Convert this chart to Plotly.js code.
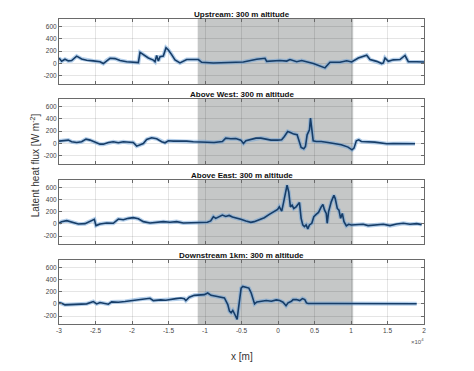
<!DOCTYPE html>
<html><head><meta charset="utf-8">
<script src="https://cdn.plot.ly/plotly-3.0.1.min.js"></script>
<style>html,body{margin:0;padding:0;background:#fff;}#chart{width:474px;height:371px;}</style>
</head><body><div id="chart"></div>
<script>
// Panel titles
const panelTitles = ["Upstream: 300 m altitude", "Above West: 300 m altitude", "Above East: 300 m altitude", "Downstream 1km: 300 m altitude"];
// x tick values (m) and labels (×10^4)
const xTickVals = [-30000,-25000,-20000,-15000,-10000,-5000,0,5000,10000,15000,20000];
const xTickText = ["-3","-2.5","-2","-1.5","-1","-0.5","0","0.5","1","1.5","2"];
const yTickVals = [-200,0,200,400,600];
// shaded region (m)
const shadeStart = -11000, shadeEnd = 10300;

// Upstream
const xUp = [-30000,-29640,-29180,-28720,-28270,-27580,-26900,-26210,-25300,-24380,-23930,-23470,-23010,-22330,-21640,-20730,-19820,-19130,-18900,-18450,-17760,-17080,-16850,-16620,-16390,-16160,-15710,-15340,-15020,-14570,-14110,-13430,-12970,-12510,-10910,-10460,-8860,-6120,-4750,-2920,-1780,-1550,270,1190,1640,2560,3240,4840,5750,6440,7120,8490,9410,10090,11000,12150,12600,13520,14200,14430,14660,15110,15800,16710,17400,17850,19000,20000];
const yUp = [90,38,70,43,48,120,75,54,43,30,0,50,85,80,50,30,15,15,180,140,90,55,30,130,40,110,120,255,220,145,60,10,35,65,65,20,10,20,25,70,85,35,50,40,65,30,48,0,-40,-70,20,20,45,25,90,135,65,35,0,10,90,35,60,65,130,30,30,25];

// Above West
const xWest = [-30000,-29410,-28720,-28270,-27580,-26900,-26300,-25750,-25070,-24380,-23930,-23240,-22560,-21870,-21190,-20500,-19820,-19360,-18900,-18450,-17990,-17310,-16620,-15940,-15480,-15020,-14340,-13430,-12510,-11600,-10140,-8760,-7620,-7160,-6470,-5780,-5090,-4730,-4400,-3720,-3030,-2340,-1650,-960,-50,500,870,1330,1700,2160,2620,2940,3170,3530,3760,3990,4310,4450,4630,4820,5230,5920,6840,7750,8670,9590,10140,10410,10730,11060,11420,13260,13970,14890,15800,16710,17630,18770];
const yWest = [38,43,54,27,16,27,70,54,27,-11,-11,16,27,11,27,16,16,-43,-27,0,65,92,76,27,11,43,38,43,38,27,27,16,32,86,76,81,54,0,43,59,86,86,76,54,54,59,113,194,178,151,140,32,-65,-86,-49,140,221,410,221,43,32,32,16,0,-22,-59,-103,-76,43,59,32,22,11,-5,0,0,0,-5];

// Above East
const xEast = [-30000,-29640,-28950,-28270,-27350,-26440,-25530,-25160,-24930,-24380,-23470,-22560,-21870,-21190,-20500,-19820,-19130,-18450,-17530,-16620,-15710,-14800,-13880,-12970,-11830,-10600,-9680,-9220,-8850,-8530,-8070,-7620,-7160,-6700,-6240,-5780,-5090,-4400,-3720,-3260,-2570,-1880,-1190,-510,-50,180,510,780,1010,1240,1470,1700,1930,2160,2480,2710,2940,3170,3390,3620,3850,4080,4310,4630,4910,5230,5550,5920,6150,6380,6610,6740,6930,7290,7660,7840,8120,8350,8580,8810,9040,9360,9680,10050,10960,11650,12340,13260,14430,15340,16260,17170,18080,19000,19680];
const yEast = [11,38,54,27,0,5,49,76,-27,0,16,11,81,70,92,103,86,38,16,22,38,27,38,16,16,27,27,49,119,92,124,146,124,140,113,103,76,49,27,38,65,103,157,200,238,281,211,362,524,635,524,281,308,254,281,308,351,92,-16,-43,-16,-81,-16,11,119,157,189,281,319,227,173,11,200,362,470,416,254,227,92,173,38,-32,-5,-16,-16,-5,-27,-16,-5,-27,0,11,-5,5,-11];

// Downstream 1km
const xDown = [-30000,-29640,-29180,-28270,-27120,-26210,-25300,-24840,-24380,-23700,-23240,-22790,-21870,-20960,-20050,-19590,-18900,-17990,-17530,-17080,-16060,-15370,-14680,-13990,-13300,-12840,-12620,-12160,-11470,-10780,-10090,-9630,-9170,-8490,-7800,-7340,-6880,-6650,-6420,-6190,-5960,-5730,-5600,-5460,-5280,-5050,-4820,-4360,-3990,-3670,-3440,-3210,-2890,-2290,-1610,-920,-230,230,690,1100,1380,1840,2060,2520,2980,3350,3670,3900,4130,7110,10000,15000,19000];
const yDown = [22,11,-16,-11,-5,0,38,0,22,0,-5,32,27,38,54,65,76,86,92,54,65,59,76,86,97,86,54,108,140,151,151,178,140,124,108,97,-11,-119,-146,-108,-162,-227,-254,-119,97,259,286,270,259,178,70,0,32,43,54,43,65,54,27,-30,16,43,70,70,54,86,70,16,5,5,3,2,3];

const seriesX = [xUp, xWest, xEast, xDown];
const seriesY = [yUp, yWest, yEast, yDown];
const axisIdx = ["4","3","2",""]; // top panel uses x4/y4, bottom uses x/y
const domains = [[0.787,1],[0.525,0.738],[0.262,0.472],[0,0.21]];

const font = "Liberation Sans, Arial, Helvetica, sans-serif";
const data = [];
const layout = {
  width:474, height:371,
  margin:{l:59, r:50, t:19, b:47},
  paper_bgcolor:"#fff", plot_bgcolor:"#fff",
  showlegend:false,
  font:{family:font, size:7, color:"#444"},
  shapes:[], annotations:[]
};

for (let i=0;i<4;i++){
  const k = axisIdx[i];
  const xa = "x"+k, ya = "y"+k;
  data.push({x:seriesX[i], y:seriesY[i], xaxis:xa, yaxis:ya, type:"scatter", mode:"lines",
    line:{color:"rgba(105,160,215,0.5)", width:4}, hoverinfo:"skip"});
  data.push({x:seriesX[i], y:seriesY[i], xaxis:xa, yaxis:ya, type:"scatter", mode:"lines",
    line:{color:"#163d68", width:1.6}});
  const xKey = "xaxis"+k, yKey = "yaxis"+k;
  layout[xKey] = {
    anchor:ya, domain:[0,1], range:[-30000,20000],
    tickvals:xTickVals, ticktext:xTickText, showticklabels:(k===""),
    showgrid:true, gridcolor:"rgba(0,0,0,0.1)", gridwidth:1,
    zeroline:false, showline:true, linecolor:"#6a6a6a", linewidth:1, mirror:"ticks",
    ticks:"inside", ticklen:3, tickcolor:"#6a6a6a",
    tickfont:{family:font, size:6.5, color:"#444"}
  };
  if (k!=="") layout[xKey].matches = "x";
  layout[yKey] = {
    anchor:xa, domain:domains[i], range:[-330,720],
    tickvals:yTickVals, ticktext:yTickVals.map(String),
    showgrid:true, gridcolor:"rgba(0,0,0,0.1)", gridwidth:1,
    zeroline:false, showline:true, linecolor:"#6a6a6a", linewidth:1, mirror:"ticks",
    ticks:"inside", ticklen:3, tickcolor:"#6a6a6a",
    tickfont:{family:font, size:6.5, color:"#444"}
  };
  layout.shapes.push({type:"rect", xref:xa, yref:ya+" domain", x0:shadeStart, x1:shadeEnd, y0:0, y1:1,
    fillcolor:"#c5c7c7", line:{width:0}, layer:"below"});
  layout.annotations.push({text:"<b>"+panelTitles[i]+"</b>", xref:"paper", yref:ya+" domain",
    x:0.5, y:1, xanchor:"center", yanchor:"bottom", yshift:-2, showarrow:false,
    font:{family:font, size:8, color:"#111"}});
}

layout.annotations.push({text:"Latent heat flux [W m<sup>-2</sup>]", xref:"paper", yref:"paper",
  x:-0.066, y:0.52, xanchor:"center", yanchor:"middle", textangle:-90, showarrow:false,
  font:{family:font, size:10, color:"#333"}});
layout.annotations.push({text:"x [m]", xref:"paper", yref:"paper", x:0.5, y:-0.108,
  xanchor:"center", yanchor:"middle", showarrow:false, font:{family:font, size:10, color:"#333"}});
layout.annotations.push({text:"×10<sup>4</sup>", xref:"paper", yref:"paper", x:1.005, y:-0.056,
  xanchor:"right", yanchor:"middle", showarrow:false, font:{family:font, size:6, color:"#555"}});

Plotly.newPlot("chart", data, layout, {displayModeBar:false, staticPlot:true});
</script></body></html>
